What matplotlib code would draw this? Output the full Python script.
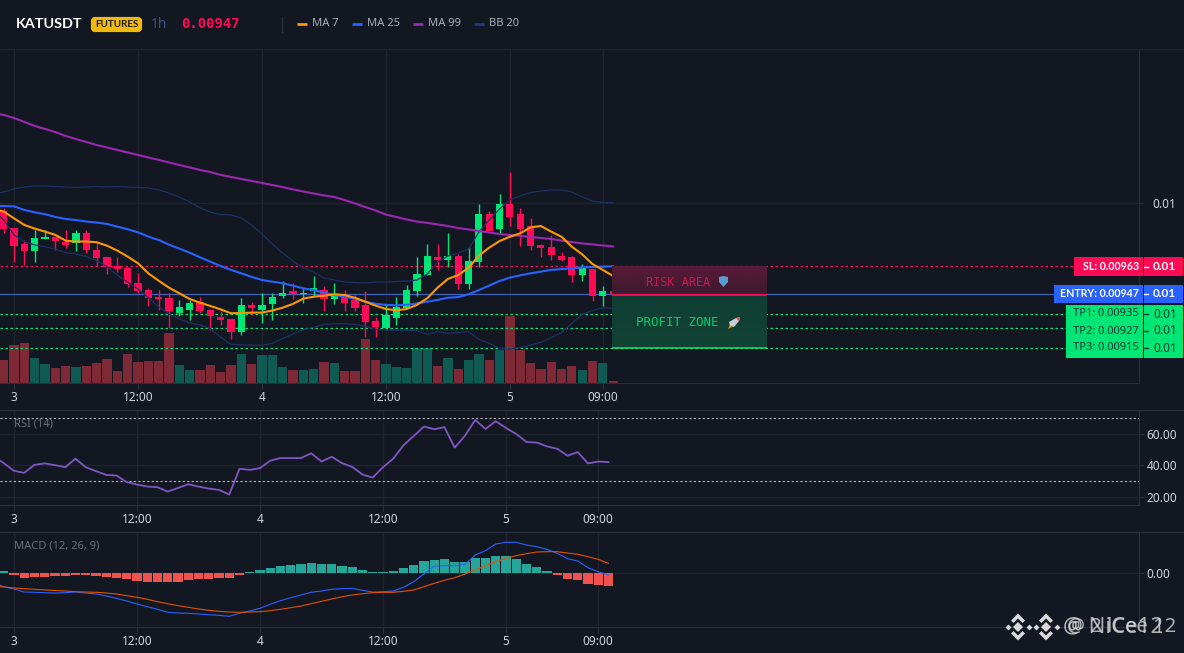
"""KATUSDT 1h, recreated as a three pane chart: price/volume, RSI and MACD."""

import matplotlib
matplotlib.use("Agg")
import matplotlib.pyplot as plt
import numpy as np
from matplotlib.colors import LinearSegmentedColormap
from matplotlib.patches import FancyBboxPatch, Polygon, Rectangle

plt.rcParams.update({"font.family": ["Noto Sans", "DejaVu Sans"], "font.size": 8.5})

# ── Data (prices in 1e-5 units, candle index 0 = day 3 at 00:00) ─────────────

tick_pos = [0, 12, 24, 36, 48, 57]
tick_labels = ["3", "12:00", "4", "12:00", "5", "09:00"]

open_ = [995.7, 985.6, 976.2, 972.1, 979.1, 980.5, 977.6, 977.0, 982.6, 972.7,
         968.6, 963.3, 962.1, 953.4, 949.3, 945.2, 944.6, 935.8, 937.6, 942.2,
         937.6, 933.5, 932.3, 924.7, 940.5, 937.6, 941.1, 945.8, 948.7, 946.9,
         948.6, 949.0, 944.0, 946.9, 943.4, 940.5, 931.1, 927.0, 932.8, 938.7,
         948.6, 958.0, 968.5, 966.8, 969.1, 952.7, 965.6, 993.7, 985.0, 999.6,
         993.7, 986.7, 975.6, 974.4, 969.1, 968.5, 958.0, 961.5, 945.7, 948.6]
high = [997.1, 985.6, 978.5, 984.4, 984.4, 980.5, 984.4, 984.4, 984.4, 976.6,
        968.6, 968.6, 962.1, 959.2, 950.4, 949.3, 947.3, 943.4, 943.4, 945.2,
        938.1, 937.0, 932.3, 944.6, 942.2, 947.3, 947.3, 954.5, 953.4, 949.8,
        957.4, 951.4, 953.3, 949.2, 946.3, 948.6, 933.4, 940.5, 945.1, 952.2,
        968.5, 976.2, 976.2, 982.6, 970.3, 974.4, 999.6, 995.5, 1005.4, 1018.3,
        997.2, 991.4, 976.2, 981.4, 971.5, 969.1, 964.4, 961.5, 951.6, 948.6]
low = [982.8, 965.8, 963.9, 965.8, 979.1, 972.7, 974.0, 972.1, 970.9, 964.1,
       958.8, 960.0, 951.0, 947.3, 939.9, 937.6, 927.2, 934.0, 931.7, 935.8,
       925.8, 928.8, 920.6, 922.9, 934.6, 929.9, 931.7, 944.6, 944.0, 941.7,
       945.7, 936.9, 941.0, 936.9, 936.9, 921.7, 921.7, 927.0, 928.7, 938.7,
       945.7, 958.0, 960.9, 962.7, 949.8, 949.8, 962.7, 983.8, 982.6, 986.7,
       975.0, 972.6, 968.5, 966.8, 966.2, 953.9, 954.5, 942.8, 939.9, 946.9]
close = [985.2, 975.2, 972.1, 979.7, 980.3, 977.9, 975.6, 982.6, 972.7, 968.0,
         962.7, 961.6, 953.0, 948.7, 944.6, 944.0, 937.0, 939.3, 941.7, 937.0,
         934.0, 931.9, 924.7, 940.5, 938.7, 940.5, 945.2, 947.5, 946.9, 947.5,
         950.2, 944.0, 946.3, 941.6, 938.7, 930.5, 927.6, 934.6, 939.3, 949.2,
         958.6, 969.1, 966.8, 969.1, 952.7, 966.2, 993.7, 983.8, 999.6, 992.0,
         985.0, 975.0, 973.8, 969.7, 966.8, 958.0, 962.7, 945.7, 948.6, 946.9]

volume = [23, 38, 40, 25, 19, 15, 17, 16, 17, 20, 24, 12, 29, 21, 22, 22, 50, 18,
          13, 13, 18, 11, 18, 29, 19, 28, 28, 16, 13, 13, 14, 21, 20, 12, 12, 44,
          23, 19, 16, 15, 35, 35, 17, 25, 14, 23, 29, 23, 33, 67, 33, 20, 14, 21,
          14, 17, 13, 22, 20, 2]

ma7 = [997.0, 995.1, 991.2, 987.3, 985.2, 983.4, 981.5, 978.1, 977.6, 977.6, 977.2,
       975.2, 972.3, 968.8, 964.9, 959.0, 954.7, 950.6, 947.3, 944.0, 941.8, 939.9,
       937.9, 935.6, 935.8, 936.0, 936.0, 937.2, 938.9, 941.1, 944.2, 945.3, 945.9,
       946.7, 946.3, 944.7, 942.4, 940.1, 938.1, 937.4, 938.1, 940.5, 944.4, 950.6,
       955.7, 958.0, 962.3, 969.3, 974.0, 977.9, 980.4, 982.4, 985.9, 986.7, 983.4,
       980.4, 974.6, 970.1, 964.4, 961.0, 957.4]
ma25 = [998.4, 998.4, 998.2, 996.1, 994.7, 993.6, 992.0, 990.8, 990.2, 989.3, 988.7,
        987.9, 986.3, 984.8, 983.0, 980.5, 978.5, 975.8, 973.5, 971.1, 968.4, 965.8,
        963.3, 961.0, 959.0, 956.9, 955.1, 954.1, 953.2, 951.8, 950.2, 949.2, 947.7,
        946.3, 945.3, 944.0, 942.4, 941.2, 940.5, 940.3, 940.5, 941.4, 942.4, 943.4,
        944.7, 945.1, 946.7, 949.2, 951.8, 954.5, 956.5, 957.8, 959.0, 960.0, 961.0,
        961.5, 961.9, 962.5, 962.7, 962.9, 963.1]
ma99 = [1052.9, 1051.7, 1049.9, 1047.6, 1045.3, 1043.5, 1041.7, 1039.4, 1037.6, 1035.9,
        1034.1, 1032.7, 1031.2, 1029.7, 1028.3, 1026.8, 1025.4, 1023.9, 1022.4, 1021.0,
        1019.5, 1018.3, 1016.6, 1015.4, 1014.2, 1013.1, 1011.9, 1010.7, 1009.5, 1008.1,
        1006.9, 1005.7, 1004.6, 1003.7, 1001.9, 999.9, 997.8, 995.8, 993.4, 992.0, 990.5,
        989.3, 988.5, 987.6, 986.7, 985.5, 984.7, 983.8, 982.9, 982.0, 981.4, 980.9,
        980.3, 979.7, 979.1, 978.2, 977.3, 976.5, 975.9, 975.3, 974.7]
bb_upper = [1005.4, 1006.6, 1008.4, 1009.5, 1010.1, 1010.1, 1009.8, 1009.5, 1009.3, 1009.5,
            1009.8, 1009.5, 1009.8, 1009.5, 1009.3, 1009.0, 1007.8, 1006.0, 1003.7, 1000.8,
            997.3, 994.9, 993.4, 993.2, 991.4, 987.3, 982.0, 976.2, 970.9, 966.2, 962.1,
            959.8, 956.3, 955.1, 953.9, 953.6, 953.3, 953.9, 953.9, 954.2, 954.5, 955.1,
            958.6, 965.6, 969.1, 970.9, 973.2, 983.2, 990.2, 996.7, 1002.0, 1004.3, 1006.3,
            1007.2, 1007.8, 1007.8, 1006.6, 1003.7, 1001.3, 1000.5, 1000.3]
bb_lower = [996.1, 990.2, 981.5, 977.6, 975.6, 974.6, 973.1, 971.1, 970.3, 968.8, 966.4,
            962.9, 958.0, 953.8, 949.8, 944.8, 939.5, 935.2, 932.3, 929.9, 928.8, 926.6,
            921.6, 917.5, 917.1, 916.9, 916.9, 918.0, 920.8, 923.5, 925.9, 927.4, 929.1,
            929.5, 929.5, 929.1, 928.0, 926.2, 925.8, 925.8, 925.8, 925.4, 923.3, 924.8,
            923.9, 924.4, 924.8, 920.4, 918.0, 915.1, 914.7, 915.5, 917.0, 918.6, 921.3,
            924.3, 929.7, 935.0, 937.3, 938.9, 938.5]

rsi = [45.7, 41.5, 36.6, 35.3, 40.4, 41.3, 40.2, 38.9, 44.3, 38.9, 36.4, 34.0, 33.6,
       29.4, 27.9, 26.6, 26.2, 23.4, 25.7, 28.1, 26.6, 25.3, 24.5, 21.5, 37.9, 37.2,
       38.3, 43.0, 44.7, 44.7, 44.7, 47.7, 42.5, 45.5, 41.5, 39.1, 34.2, 32.3, 38.9,
       44.3, 52.8, 58.7, 64.7, 63.0, 64.3, 51.3, 58.9, 68.9, 63.2, 68.1, 63.8, 60.0,
       54.9, 54.5, 52.1, 50.6, 46.2, 48.5, 41.3, 42.5, 42.1]

macd_hist = [2, -2, -5, -4, -4, -3, -3, -2, -2, -3, -4, -5, -6, -8, -9, -9, -9, -9, -7,
             -6, -6, -5, -5, -2, 1, 3, 5, 7, 8, 9, 10, 9, 9, 7, 6, 3, 1, 1, 2, 5, 8, 12,
             13, 14, 11, 11, 15, 15, 17, 17, 14, 9, 6, 2, -2, -6, -7, -11, -12, -13]
macd_line = [-9.7, -13.7, -16.0, -19.0, -19.3, -19.7, -20.0, -19.7, -19.0, -20.0, -21.0,
             -23.0, -25.3, -28.0, -31.0, -33.7, -36.3, -39.3, -40.0, -40.3, -41.0, -41.7,
             -42.3, -43.3, -40.3, -38.0, -35.3, -31.3, -27.7, -24.7, -22.0, -19.3, -18.0,
             -16.3, -15.7, -15.3, -17.3, -19.0, -18.7, -18.0, -14.3, -8.7, -1.0, 6.7, 7.3,
             7.3, 8.7, 18.0, 22.3, 29.0, 30.7, 30.7, 28.0, 26.3, 23.7, 19.7, 14.3, 12.0,
             5.3, 1.3, -2.0]
macd_signal = [-13.0, -14.0, -15.0, -15.7, -16.3, -17.0, -17.5, -18.0, -18.7, -19.0, -19.3,
               -20.0, -21.0, -22.7, -24.3, -26.3, -28.7, -30.7, -32.7, -34.3, -36.0, -37.3,
               -38.3, -39.0, -39.3, -39.0, -38.7, -37.7, -36.3, -34.7, -33.0, -30.7, -28.3,
               -26.0, -23.7, -22.0, -20.7, -19.7, -19.3, -19.3, -18.3, -17.0, -13.7, -10.3,
               -7.3, -4.7, -1.0, 3.0, 7.3, 11.3, 14.7, 17.3, 19.3, 21.0, 21.3, 21.3, 20.0,
               18.7, 16.3, 13.7, 9.7]

sl_price = 963
entry_price = 947
tp_prices = [935, 927, 915]
price_labels = ["SL: 0.00963", "ENTRY: 0.00947", "TP1: 0.00935", "TP2: 0.00927", "TP3: 0.00915"]

# ── Colours ──────────────────────────────────────────────────────────────────

BG = "#131722"
GRID = "#1f232e"
BORDER = "#2a2e39"
TEXT = "#d1d4dc"
UP = "#00e676"
DOWN = "#ff0a54"
BLUE = "#2962ff"
ORANGE = "#ff9800"
PURPLE = "#9c27b0"
BB = "#1c3166"
BOLD_FONT = "Lato"
FIG_W, FIG_H = 1184, 653


def pane(top, bottom, right=1139):
    """Axes placed by pixel edges of the figure."""
    return fig.add_axes([0, 1 - bottom / FIG_H, right / FIG_W, (bottom - top) / FIG_H])


def style_pane(ax, xlim, tick_len=3.6, tick_pad=2):
    ax.set_xlim(*xlim)
    ax.set_facecolor("none")
    for side in ("top", "left"):
        ax.spines[side].set_visible(False)
    for side in ("bottom", "right"):
        ax.spines[side].set_color(BORDER)
    ax.set_xticks(tick_pos)
    ax.set_xticklabels(tick_labels, color=TEXT, fontsize=8.5)
    ax.tick_params(axis="x", length=4, color=BORDER, pad=1.5)
    ax.tick_params(axis="y", length=tick_len, color=BORDER, labelcolor=TEXT, labelsize=8.5, pad=tick_pad)
    ax.yaxis.tick_right()
    ax.grid(color=GRID, linewidth=1)
    ax.set_axisbelow(True)


def gradient_zone(ax, x0, x1, y0, y1, top_color, bottom_color):
    cmap = LinearSegmentedColormap.from_list("zone", [top_color, bottom_color])
    ax.imshow(np.linspace(0, 1, 32).reshape(-1, 1), cmap=cmap, extent=(x0, x1, y0, y1),
              aspect="auto", origin="upper", zorder=5)


fig = plt.figure(figsize=(FIG_W / 100, FIG_H / 100), dpi=100, facecolor=BG)

idx_lines = np.arange(-2, 59)
idx_bars = np.arange(-1, 59)
main_xlim = (-1.355, 108.9)
sub_xlim = (-1.366, 109.76)
main_ylim = (894.8, 1090.3)

# ── Price pane ───────────────────────────────────────────────────────────────

ax_vol = pane(49, 383)
ax_vol.set_facecolor(BG)
ax_vol.set_xlim(*main_xlim)
ax_vol.set_ylim(0, 334)
ax_vol.axis("off")
ax_vol.vlines(tick_pos, 0, 334, color=GRID, linewidth=1, zorder=1)
vol_colors = ["#0f5a52" if c >= o else "#7f2836" for o, c in zip(open_, close)]
ax_vol.bar(idx_bars, volume, width=0.9, color=vol_colors, zorder=2)

ax = pane(49, 383)
style_pane(ax, main_xlim, tick_len=3, tick_pad=6.5)
ax.xaxis.grid(False)
ax.set_yticks([1000])
ax.set_yticklabels(["0.01"])

# zonas de riesgo / beneficio
gradient_zone(ax, 57.9, 72.9, entry_price, sl_price, "#5a1a36", "#3c1a30")
gradient_zone(ax, 57.9, 72.9, tp_prices[2], entry_price, "#0f3d33", "#124434")
ax.set_xlim(*main_xlim)
ax.set_ylim(*main_ylim)
ax.plot([57.9, 72.9], [946.4, 946.4], color=DOWN, lw=1.3, solid_capstyle="butt", zorder=6)
ax.plot([57.9, 72.9], [tp_prices[2], tp_prices[2]], color="#1fd97c", lw=1.1, solid_capstyle="butt", zorder=6)

# velas
colors = [UP if c >= o else DOWN for o, c in zip(open_, close)]
ax.vlines(idx_bars, low, high, colors=colors, linewidth=1, zorder=3)
bottoms = np.minimum(open_, close)
heights = np.abs(np.array(close) - np.array(open_))
ax.bar(idx_bars, heights, bottom=bottoms, width=0.7, color=colors, zorder=3)

ax.plot(idx_lines, bb_upper, color=BB, lw=0.9, zorder=4)
ax.plot(idx_lines, bb_lower, color=BB, lw=0.9, zorder=4)
ax.plot(idx_lines, ma99, color=PURPLE, lw=1.5, zorder=4)
ax.plot(idx_lines, ma25, color=BLUE, lw=1.5, zorder=4)
ax.plot(idx_lines, ma7, color=ORANGE, lw=1.5, zorder=4)

ax.axhline(sl_price, color=DOWN, lw=0.9, linestyle=(0, (2, 2)), zorder=2)
ax.axhline(entry_price, color="#3f63b8", lw=0.9, zorder=2)
for tp in tp_prices:
    ax.axhline(tp, color=UP, lw=0.9, linestyle=(0, (2, 2)), zorder=2)

# ── RSI pane ─────────────────────────────────────────────────────────────────

ax_rsi = pane(410, 505)
style_pane(ax_rsi, sub_xlim)
ax_rsi.set_ylim(14.9, 75.2)
ax_rsi.set_yticks([20, 40, 60])
ax_rsi.set_yticklabels(["20.00", "40.00", "60.00"])
ax_rsi.axhline(70, color="#b2b5be", lw=0.8, linestyle=(0, (2, 2)))
ax_rsi.axhline(30, color="#b2b5be", lw=0.8, linestyle=(0, (2, 2)))
ax_rsi.plot(idx_lines, rsi, color="#7e57c2", lw=1.3)

# ── MACD pane ────────────────────────────────────────────────────────────────

ax_macd = pane(532, 627)
style_pane(ax_macd, sub_xlim)
ax_macd.set_ylim(-54, 41)
ax_macd.set_yticks([0])
ax_macd.set_yticklabels(["0.00"])
hist_colors = ["#26a69a" if v >= 0 else "#ef5350" for v in macd_hist]
ax_macd.bar(idx_bars, macd_hist, width=0.9, color=hist_colors, zorder=2)
ax_macd.plot(idx_lines, macd_line, color=BLUE, lw=0.8, zorder=3)
ax_macd.plot(idx_lines, macd_signal, color="#e65100", lw=0.8, zorder=3)

# ── Pixel overlay: header, price tags, captions ──────────────────────────────

px = fig.add_axes([0, 0, 1, 1], zorder=10)
px.set_xlim(0, FIG_W)
px.set_ylim(FIG_H, 0)
px.axis("off")

px.plot([0, FIG_W], [48.5, 48.5], color="#1e222d", lw=1)
px.plot([0, FIG_W], [410, 410], color=BORDER, lw=1)
px.plot([0, FIG_W], [532, 532], color=BORDER, lw=1)

px.text(16, 24, "KATUSDT", color="white", fontsize=10.4, fontweight="bold", family=BOLD_FONT, va="center")
px.add_patch(FancyBboxPatch((93, 19), 47, 11, boxstyle="round,pad=0,rounding_size=2",
                            mutation_aspect=1, fc="#f0b90b", ec="#f0b90b", lw=3))
px.text(116.5, 24.5, "FUTURES", color="#1a1a1a", fontsize=7, fontweight="bold", family=BOLD_FONT,
        ha="center", va="center")
px.text(151, 24.5, "1h", color="#3a5488", fontsize=10, va="center")
px.text(181, 24, "0.00947", color=DOWN, fontsize=10, fontweight="bold", family="DejaVu Sans Mono", va="center")
px.plot([281.5, 281.5], [17, 32], color=BORDER, lw=1)

legend_items = [("MA 7", ORANGE, 297), ("MA 25", BLUE, 352), ("MA 99", PURPLE, 413), ("BB 20", "#1e3a8a", 474)]
for label, color, x0 in legend_items:
    px.plot([x0, x0 + 10], [24, 24], color=color, lw=2, solid_capstyle="butt")
    px.text(x0 + 15, 24, label, color="#a9adb8", fontsize=8, va="center")

# etiquetas de precio a la derecha
tags = [(1074, 257, 276, DOWN, "white"), (1054, 284.5, 303, BLUE, "white")]
for (x0, y0, y1, bg, fg), label in zip(tags, price_labels[:2]):
    px.add_patch(Rectangle((x0, y0), 1143 - x0, y1 - y0, fc=bg, lw=0))
    px.add_patch(Rectangle((1144, y0), 39, y1 - y0, fc=bg, lw=0))
    px.text(1139, (y0 + y1) / 2, label, color=fg, fontsize=7.7, fontweight="bold", family=BOLD_FONT,
            ha="right", va="center")
    px.plot([1144, 1148], [(y0 + y1) / 2] * 2, color=fg, lw=1)
    px.text(1153, (y0 + y1) / 2, "0.01", color=fg, fontsize=8.5, fontweight="bold", family=BOLD_FONT, va="center")

px.add_patch(Rectangle((1066, 305), 77, 52.5, fc=UP, lw=0))
px.add_patch(Rectangle((1144, 305), 39, 52.5, fc=UP, lw=0))
for yc, label in zip([314, 331, 348], price_labels[2:]):
    px.text(1139, yc, label, color="#0b3b2a", fontsize=8, ha="right", va="center")
    px.plot([1144, 1148], [yc, yc], color="#0b3b2a", lw=1)
    px.text(1153, yc, "0.01", color="#0b3b2a", fontsize=8.5, va="center")

px.text(646, 282, "RISK AREA", color="#d0144f", fontsize=8.6, family="DejaVu Sans Mono", va="center")
px.text(636, 323, "PROFIT ZONE", color="#00d068", fontsize=9, family="DejaVu Sans Mono", va="center")

# escudo y cohete (no hay fuente de emoji)
px.add_patch(Polygon([[719, 277], [723.5, 276], [728, 277], [728, 282], [723.5, 287], [719, 282]], fc="#5b9bd5", lw=0))
px.add_patch(Polygon([[730, 326], [729, 322], [736, 318], [740, 317], [739, 321], [734, 327]], fc="#c9ccd4", lw=0))
px.add_patch(Polygon([[740, 317], [736, 318], [739, 321]], fc="#e5484d", lw=0))
px.add_patch(Polygon([[730, 325], [728, 329], [732, 327]], fc="#f59e0b", lw=0))

px.text(14, 424, "RSI (14)", color="#6b6f7a", fontsize=8, va="center")
px.text(14, 546, "MACD (12, 26, 9)", color="#6b6f7a", fontsize=8, va="center")

# marca de agua duplicada
WM = "#d9d9d9"
for x_logo in (1018, 1046):
    for sign in (-1, 1):
        px.add_patch(Polygon([[x_logo, 627 + sign * 13.5], [x_logo + 7, 627 + sign * 6.5],
                              [x_logo + 4.5, 627 + sign * 4], [x_logo, 627 + sign * 8.5],
                              [x_logo - 4.5, 627 + sign * 4], [x_logo - 7, 627 + sign * 6.5]],
                             fc=WM, lw=0, zorder=3))
        px.plot([x_logo + sign * 10.5], [627], marker="D", ms=3, color=WM, mew=0)
    px.plot([x_logo], [627], marker="D", ms=5, color=WM, mew=0)
for x_text, handle, size in [(1063, "@ NiCe12", 16), (1067, "@ 2 lCee 12", 14.5)]:
    px.text(x_text, 627, handle, color=WM, fontsize=size, va="center", alpha=0.8)

fig.savefig("out.png", dpi=100, facecolor=BG)
